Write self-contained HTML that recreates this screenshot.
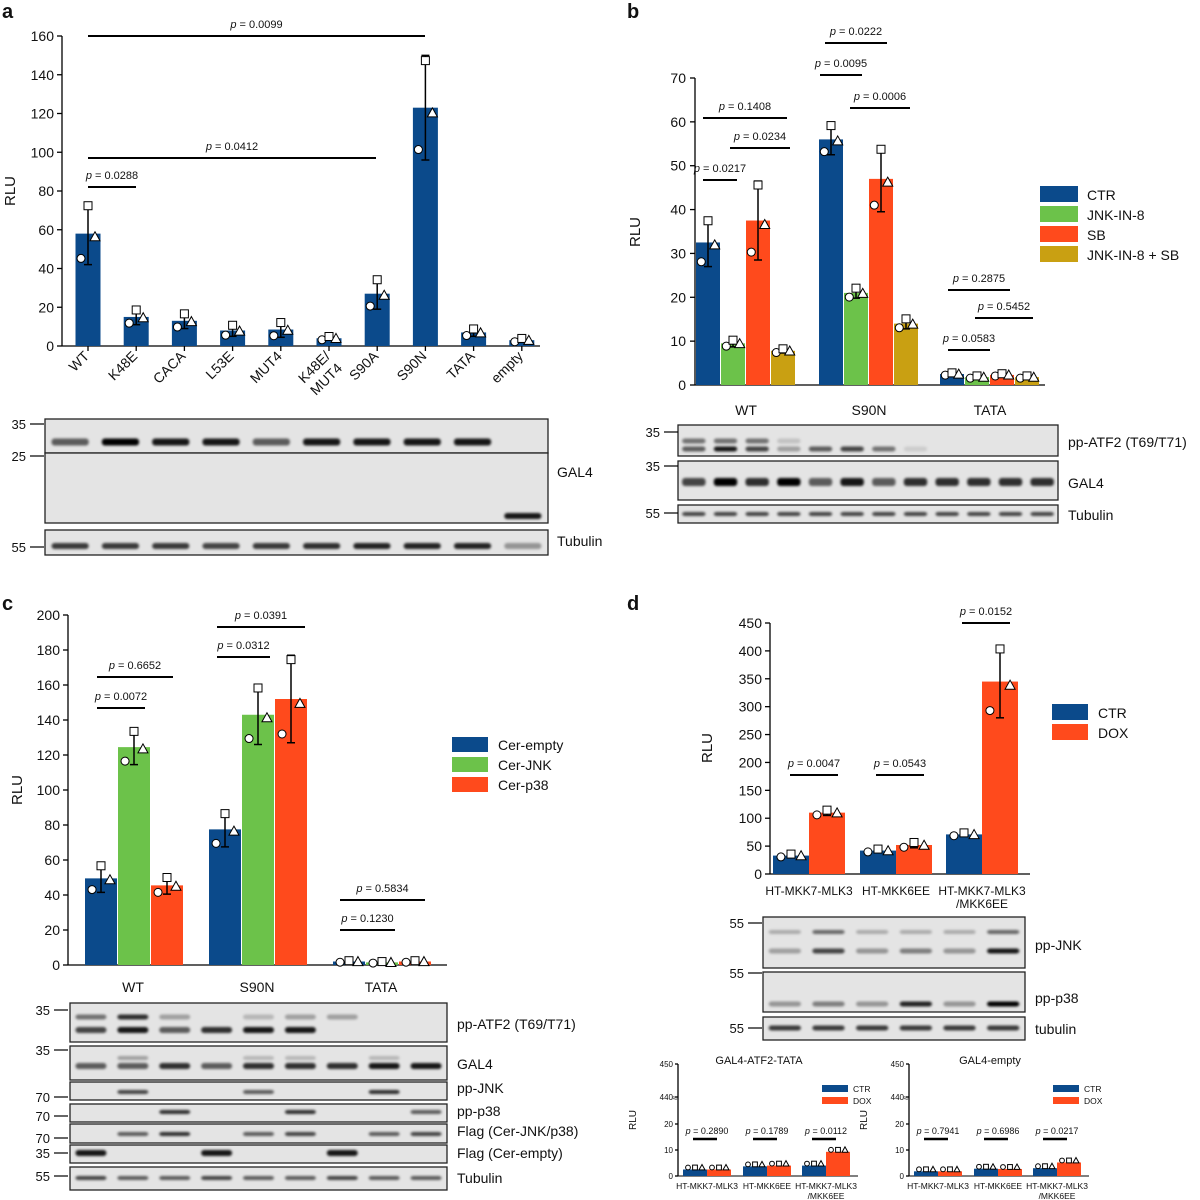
<!DOCTYPE html>
<html><head><meta charset="utf-8"><style>
html,body{margin:0;padding:0;background:#fff;}
svg{display:block;font-family:"Liberation Sans",Arial,sans-serif;}
</style></head><body>
<svg id="fig" width="1200" height="1200" viewBox="0 0 1200 1200" xmlns="http://www.w3.org/2000/svg">
<defs><filter id="blur" x="-20%" y="-100%" width="140%" height="300%"><feGaussianBlur stdDeviation="1.3"/></filter></defs>
</svg>
<script>
// ---------- DATA ----------
const aCats=["WT","K48E","CACA","L53E","MUT4","K48E/\nMUT4","S90A","S90N","TATA","empty"];
const aVals=[58,15,13,8,8.5,4,27,123,7,3];
const aErr=[16,4,4,3,4,1,8,27,2,1];
const bGroups=["WT","S90N","TATA"];
const bSeries=["CTR","JNK-IN-8","SB","JNK-IN-8 + SB"];
const bCTR=[32.5,56,2.5];
const bJNK=[9.5,21,1.8];
const bSB=[37.5,47,2.3];
const bBoth=[7.8,14,1.8];
const bErrCTR=[5.5,3.5,0.3];
const bErrJNK=[0.8,1.2,0.3];
const bErrSB=[9,7.5,0.3];
const bErrBoth=[0.5,1.2,0.3];
const cGroups=["WT","S90N","TATA"];
const cSeries=["Cer-empty","Cer-JNK","Cer-p38"];
const cEmpty=[49.5,77.5,2];
const cJNK=[124.5,143,1.5];
const cP38=[45.5,152,2];
const cErrEmpty=[8,10,0.5];
const cErrJNK=[10,17,0.5];
const cErrP38=[5,25,0.5];
const dGroups=["HT-MKK7-MLK3","HT-MKK6EE","HT-MKK7-MLK3\n/MKK6EE"];
const dCTR=[33,42,71];
const dDOX=[110,52,345];
const dErrCTR=[3,3,3];
const dErrDOX=[5,5,65];
const e1CTR=[2.5,3.7,4];
const e1DOX=[2.5,4,9.3];
const e2CTR=[1.8,2.8,3];
const e2DOX=[1.8,2.7,5.2];
const aTicks=[0,20,40,60,80,100,120,140,160];
const bTicks=[0,10,20,30,40,50,60,70];
const cTicks=[0,20,40,60,80,100,120,140,160,180,200];
const dTicks=[0,50,100,150,200,250,300,350,400,450];

const BLUE="#0b4a8b",GREEN="#6cc24a",RED="#ff4a1c",GOLD="#c9a012";
const svg=document.getElementById('fig');
const NS="http://www.w3.org/2000/svg";
function mk(tag,attrs,name,parent){
  const el=document.createElementNS(NS,tag);
  for(const k in attrs) el.setAttribute(k,attrs[k]);
  
  
  (parent||svg).appendChild(el);return el;
}
function txt(x,y,s,name,o){
  o=o||{};
  const t=mk('text',{x:x,y:y,'font-size':o.fs||14,'text-anchor':o.anchor||'start',fill:'#111','font-weight':o.bold?'bold':'normal'},name,o.parent);
  if(o.rot) t.setAttribute('transform','rotate('+o.rot+' '+x+' '+y+')');
  if(o.italicP){
    const p=document.createElementNS(NS,'tspan');p.setAttribute('font-style','italic');p.textContent='p';t.appendChild(p);
    t.appendChild(document.createTextNode(' = '+s));
  } else t.textContent=s;
  return t;
}
function line(x1,y1,x2,y2,name,w){return mk('line',{x1:x1,y1:y1,x2:x2,y2:y2,stroke:'#000','stroke-width':w||1.3},name);}
function yScale(y0,ppu){return v=>y0-v*ppu;}
function yaxis(x,ys,ticks,name,fs,labelX){
  line(x,ys(ticks[0]),x,ys(ticks[ticks.length-1]),name+'-line');
  ticks.forEach(t=>{line(x-5,ys(t),x,ys(t),name+'-tick');txt(labelX||x-8,ys(t)+5,String(t),name+'-tick-label',{anchor:'end',fs:fs||14});});
}
function marker(kind,x,y,name,s){
  s=s||1;
  if(kind===0) mk('circle',{cx:x,cy:y,r:4*s,fill:'#fff',stroke:'#000','stroke-width':1},name);
  else if(kind===1) mk('rect',{x:x-4*s,y:y-4*s,width:8*s,height:8*s,fill:'#fff',stroke:'#000','stroke-width':1},name);
  else mk('path',{d:`M${x} ${y-5*s}L${x+5*s} ${y+4*s}L${x-5*s} ${y+4*s}Z`,fill:'#fff',stroke:'#000','stroke-width':1},name);
}
function bar(cx,w,v,err,ys,color,name){
  const top=ys(v),base=ys(0);
  mk('rect',{x:cx-w/2,y:top,width:w,height:base-top,fill:color},name);
  if(err>0){
    line(cx,ys(v-err),cx,ys(v+err),name+'-error',1.5);
    line(cx-4,ys(v+err),cx+4,ys(v+err),name+'-error-cap',1.5);
    line(cx-4,ys(v-err),cx+4,ys(v-err),name+'-error-cap',1.5);
  }
  const off=[-w*0.28,0,w*0.28];
  const d=[-0.8*err,0.9*err,-0.1*err];
  [0,1,2].forEach(i=>marker(i,cx+off[i],ys(v+d[i]),name+'-point'));
}
function bracket(x1,x2,y,p,name,fs){
  line(x1,y,x2,y,name+'-line',2);
  txt((x1+x2)/2,y-8,p,name+'-label',{anchor:'middle',italicP:true,fs:fs||11});
}
function blot(x,y,w,h,n,bands,name){
  const g=mk('g',{},name);
  mk('rect',{x:x,y:y,width:w,height:h,fill:'#e4e4e4',stroke:'#222','stroke-width':1.3},name+'-frame',g);
  const lw=w/n;
  bands.forEach(b=>{
    b.v.forEach((it,i)=>{
      if(it<=0)return;
      mk('rect',{x:x+i*lw+lw*0.13,y:b.y-(b.h||6)/2,width:lw*0.74,height:b.h||6,rx:3,fill:'#000','fill-opacity':it,filter:'url(#blur)'},name+'-band',g);
    });
  });
}
function mw(x,y,label,name){line(x+6,y,x+20,y,name+'-tick',1.2);txt(x+2,y+5,label,name,{anchor:'end',fs:13});}

// ---------- PANEL LETTERS ----------
txt(2,18,'a','panel-a-letter',{bold:true,fs:20});
txt(627,18,'b','panel-b-letter',{bold:true,fs:20});
txt(2,610,'c','panel-c-letter',{bold:true,fs:20});
txt(627,610,'d','panel-d-letter',{bold:true,fs:20});

// ---------- PANEL A ----------
(function(){
  const ys=yScale(346,310/160);
  yaxis(62,ys,aTicks,'a-y-axis');
  line(62,346,540,346,'a-x-axis');
  txt(15,191,'RLU','a-y-axis-title',{anchor:'middle',rot:-90,fs:15});
  aCats.forEach((c,i)=>{
    const cx=88+48.2*i;
    bar(cx,25,aVals[i],aErr[i],ys,BLUE,'a-bar-'+i);
    line(cx,346,cx,351,'a-x-tick');
    const parts=c.split('\n');
    parts.forEach((p,j)=>txt(cx+2+j*12,357+j*12,p,'a-x-label',{anchor:'end',rot:-45,fs:14}));
  });
  bracket(88,425,36,'0.0099','a-p-wt-s90n');
  bracket(88,376,158,'0.0412','a-p-wt-s90a');
  bracket(88,136,187,'0.0288','a-p-wt-k48e');
  blot(45,419,503,34,10,[{y:442,v:[.6,1,.9,.9,.6,.9,.9,.9,.9,0],h:7}],'a-blot-gal4-top');
  blot(45,453,503,70,10,[{y:516,v:[0,0,0,0,0,0,0,0,0,.9]}],'a-blot-gal4-bottom');
  blot(45,530,503,25,10,[{y:546,v:[.75,.75,.75,.7,.75,.8,.85,.85,.85,.35]}],'a-blot-tubulin');
  mw(24,424,'35','a-mw-35');mw(24,456,'25','a-mw-25');mw(24,547,'55','a-mw-55');
  txt(557,477,'GAL4','a-blot-label-gal4');txt(557,546,'Tubulin','a-blot-label-tubulin');
})();

// ---------- PANEL B ----------
(function(){
  const ys=yScale(385,307/70);
  yaxis(695,ys,bTicks,'b-y-axis',14,686);
  line(695,385,1045,385,'b-x-axis');
  txt(640,232,'RLU','b-y-axis-title',{anchor:'middle',rot:-90,fs:15});
  const starts=[696,819,940];
  const series=[bCTR,bJNK,bSB,bBoth],errs=[bErrCTR,bErrJNK,bErrSB,bErrBoth],cols=[BLUE,GREEN,RED,GOLD];
  bGroups.forEach((g,gi)=>{
    series.forEach((s,si)=>bar(starts[gi]+12+si*25,24,s[gi],errs[si][gi],ys,cols[si],'b-bar-'+g+'-'+si));
    txt(starts[gi]+50,415,g,'b-x-label',{anchor:'middle',fs:14});
  });
  bracket(703,737,180,'0.0217','b-p-wt-1');bracket(703,787,118,'0.1408','b-p-wt-2');bracket(730,790,148,'0.0234','b-p-wt-3');
  bracket(825,887,43,'0.0222','b-p-s90n-1');bracket(820,862,75,'0.0095','b-p-s90n-2');bracket(850,910,108,'0.0006','b-p-s90n-3');
  bracket(948,1010,290,'0.2875','b-p-tata-1');bracket(948,990,350,'0.0583','b-p-tata-2');bracket(975,1033,318,'0.5452','b-p-tata-3');
  bSeries.forEach((s,i)=>{mk('rect',{x:1040,y:186+i*20,width:38,height:16,fill:cols[i]},'b-legend-swatch-'+i);txt(1087,200+i*20,s,'b-legend-label-'+i,{fs:14});});
  blot(678,425,380,31,12,[{y:441,v:[.5,.5,.5,.15,0,0,0,0,0,0,0,0],h:5},{y:449,v:[.6,.9,.7,.3,.6,.7,.5,.1,0,0,0,0],h:5}],'b-blot-ppatf2');
  blot(678,461,380,39,12,[{y:482,v:[.7,1,.8,1,.6,.9,.6,.8,.8,.8,.8,.8],h:8}],'b-blot-gal4');
  blot(678,505,380,18,12,[{y:514,v:[.7,.7,.7,.7,.7,.7,.7,.7,.7,.7,.7,.7],h:4}],'b-blot-tubulin');
  mw(658,432,'35','b-mw-35a');mw(658,466,'35','b-mw-35b');mw(658,513,'55','b-mw-55');
  txt(1068,447,'pp-ATF2 (T69/T71)','b-blot-label-ppatf2');txt(1068,488,'GAL4','b-blot-label-gal4');txt(1068,520,'Tubulin','b-blot-label-tubulin');
})();

// ---------- PANEL C ----------
(function(){
  const ys=yScale(965,350/200);
  yaxis(68,ys,cTicks,'c-y-axis',14,60);
  line(68,965,447,965,'c-x-axis');
  txt(22,790,'RLU','c-y-axis-title',{anchor:'middle',rot:-90,fs:15});
  const starts=[85,209,333];
  const series=[cEmpty,cJNK,cP38],errs=[cErrEmpty,cErrJNK,cErrP38],cols=[BLUE,GREEN,RED];
  cGroups.forEach((g,gi)=>{
    series.forEach((s,si)=>bar(starts[gi]+16+si*33,32,s[gi],errs[si][gi],ys,cols[si],'c-bar-'+g+'-'+si));
    txt(starts[gi]+48,992,g,'c-x-label',{anchor:'middle',fs:14});
  });
  bracket(97,145,708,'0.0072','c-p-wt-1');bracket(97,173,677,'0.6652','c-p-wt-2');
  bracket(217,270,657,'0.0312','c-p-s90n-1');bracket(217,305,627,'0.0391','c-p-s90n-2');
  bracket(340,395,930,'0.1230','c-p-tata-1');bracket(340,425,900,'0.5834','c-p-tata-2');
  cSeries.forEach((s,i)=>{mk('rect',{x:452,y:737+i*20,width:36,height:15,fill:cols[i]},'c-legend-swatch-'+i);txt(498,750+i*20,s,'c-legend-label-'+i,{fs:14});});
  blot(70,1003,377,39,9,[{y:1017,v:[.5,.8,.3,0,.2,.3,.3,0,0],h:5},{y:1030,v:[.7,.9,.6,.8,.9,.9,0,0,0],h:6}],'c-blot-ppatf2');
  blot(70,1046,377,34,9,[{y:1058,v:[0,.3,0,0,.2,.2,0,.2,0],h:4},{y:1066,v:[.6,.6,.8,.6,.8,.8,.8,.9,.9],h:6}],'c-blot-gal4');
  blot(70,1082,377,18,9,[{y:1092,v:[0,.7,0,0,.6,0,0,.8,0],h:4}],'c-blot-ppjnk');
  blot(70,1104,377,18,9,[{y:1112,v:[0,0,.8,0,0,.8,0,0,.6],h:4}],'c-blot-pp38');
  blot(70,1124,377,19,9,[{y:1134,v:[0,.6,.8,0,.6,.7,0,.6,.7],h:4}],'c-blot-flag');
  blot(70,1145,377,18,9,[{y:1153,v:[.9,0,0,.9,0,0,.9,0,0],h:6}],'c-blot-flag-empty');
  blot(70,1167,377,23,9,[{y:1178,v:[.7,.6,.6,.7,.6,.6,.7,.6,.6],h:4}],'c-blot-tubulin');
  mw(48,1010,'35','c-mw-35a');mw(48,1050,'35','c-mw-35b');mw(48,1097,'70','c-mw-70a');mw(48,1116,'70','c-mw-70b');mw(48,1138,'70','c-mw-70c');mw(48,1153,'35','c-mw-35c');mw(48,1176,'55','c-mw-55');
  const bl=[['pp-ATF2 (T69/T71)',1029],['GAL4',1069],['pp-JNK',1093],['pp-p38',1116],['Flag (Cer-JNK/p38)',1136],['Flag (Cer-empty)',1158],['Tubulin',1183]];
  bl.forEach((b,i)=>txt(457,b[1],b[0],'c-blot-label-'+i));
})();

// ---------- PANEL D ----------
(function(){
  const ys=yScale(874,251/450);
  yaxis(770,ys,dTicks,'d-y-axis',14,762);
  line(770,874,1030,874,'d-x-axis');
  txt(712,748,'RLU','d-y-axis-title',{anchor:'middle',rot:-90,fs:15});
  const starts=[773,860,946];
  dGroups.forEach((g,gi)=>{
    bar(starts[gi]+18,36,dCTR[gi],dErrCTR[gi],ys,BLUE,'d-bar-ctr-'+gi);
    bar(starts[gi]+54,36,dDOX[gi],dErrDOX[gi],ys,RED,'d-bar-dox-'+gi);
    g.split('\n').forEach((p,j)=>txt(starts[gi]+36,895+j*13,p,'d-x-label',{anchor:'middle',fs:12}));
  });
  bracket(790,838,775,'0.0047','d-p-1');bracket(876,924,775,'0.0543','d-p-2');bracket(962,1010,623,'0.0152','d-p-3');
  [['CTR',BLUE],['DOX',RED]].forEach((s,i)=>{mk('rect',{x:1052,y:704+i*20,width:36,height:16,fill:s[1]},'d-legend-swatch-'+i);txt(1098,718+i*20,s[0],'d-legend-label-'+i,{fs:14});});
  blot(763,917,262,51,6,[{y:932,v:[.25,.55,.25,.25,.25,.55],h:4},{y:951,v:[.3,.7,.35,.45,.35,.9],h:5}],'d-blot-ppjnk');
  blot(763,972,262,40,6,[{y:1004,v:[.35,.45,.35,.85,.35,1],h:5}],'d-blot-pp38');
  blot(763,1017,262,23,6,[{y:1028,v:[.75,.75,.75,.75,.75,.75],h:5}],'d-blot-tubulin');
  mw(742,923,'55','d-mw-55a');mw(742,973,'55','d-mw-55b');mw(742,1028,'55','d-mw-55c');
  txt(1035,950,'pp-JNK','d-blot-label-ppjnk');txt(1035,1003,'pp-p38','d-blot-label-pp38');txt(1035,1034,'tubulin','d-blot-label-tubulin');

  function small(ax,ctr,dox,title,pv,name){
    const pos=v=>v<=20?1176-v*2.6:1097-(v-440)*3.3;
    line(ax,1176,ax,1064,name+'-y-axis');
    [[0],[10],[20],[440],[450]].forEach(t=>{line(ax-3,pos(t[0]),ax,pos(t[0]),name+'-tick');txt(ax-5,pos(t[0])+3,String(t[0]),name+'-tick-label',{anchor:'end',fs:8});});
    txt(ax-3,1101,'≈','axis-break',{anchor:'middle',fs:9});
    line(ax,1176,ax+180,1176,name+'-x-axis',1);
    txt(ax-42,1120,'RLU','small-rlu',{anchor:'middle',rot:-90,fs:10});
    txt(ax+81,1064,title,name+'-title',{anchor:'middle',fs:11});
    const ysm=v=>pos(v);
    const starts=[ax+5,ax+65,ax+124];
    const labs=["HT-MKK7-MLK3","HT-MKK6EE","HT-MKK7-MLK3"];
    ctr.forEach((v,i)=>{
      mk('rect',{x:starts[i],y:ysm(v),width:24,height:1176-ysm(v),fill:BLUE},name+'-bar-ctr-'+i);
      mk('rect',{x:starts[i]+24,y:ysm(dox[i]),width:24,height:1176-ysm(dox[i]),fill:RED},name+'-bar-dox-'+i);
      [0,1,2].forEach(k=>{marker(k,starts[i]+5+k*7,ysm(v)-2,name+'-pt',0.6);marker(k,starts[i]+29+k*7,ysm(dox[i])-2,name+'-pt',0.6);});
      txt(starts[i]+24,1189,labs[i],name+'-x-label',{anchor:'middle',fs:8.5});
      line(starts[i]+10,1139,starts[i]+34,1139,name+'-p-line',2.5);
      txt(starts[i]+24,1134,pv[i],name+'-p-label',{anchor:'middle',italicP:true,fs:9});
    });
    txt(starts[2]+24,1199,'/MKK6EE',name+'-x-label',{anchor:'middle',fs:8.5});
    mk('rect',{x:ax+144,y:1085,width:26,height:7,fill:BLUE},name+'-legend-ctr');
    mk('rect',{x:ax+144,y:1097,width:26,height:7,fill:RED},name+'-legend-dox');
    txt(ax+175,1092,'CTR',name+'-legend-ctr-label',{fs:8.5});txt(ax+175,1104,'DOX',name+'-legend-dox-label',{fs:8.5});
  }
  small(678,e1CTR,e1DOX,'GAL4-ATF2-TATA',['0.2890','0.1789','0.0112'],'d-small-1');
  small(909,e2CTR,e2DOX,'GAL4-empty',['0.7941','0.6986','0.0217'],'d-small-2');
})();
</script>
</body></html>
